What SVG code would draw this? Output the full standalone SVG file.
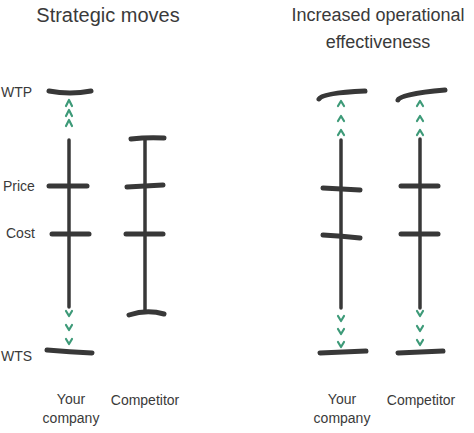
<svg xmlns="http://www.w3.org/2000/svg" width="474" height="433" viewBox="0 0 474 433">
<style>
text{font-family:"Liberation Sans",Arial,sans-serif;fill:#3a3a3a}
.t{font-size:20px;text-anchor:middle}
.t2{font-size:18px;text-anchor:middle}
.l{font-size:14px}
.c{font-size:14px;text-anchor:middle}
.bar{stroke:#383838;stroke-width:3.5;fill:none;stroke-linecap:round}
.cap{stroke:#383838;stroke-width:5;fill:none;stroke-linecap:round}
.ar{stroke:#3d9a78;stroke-width:2.2;fill:none;stroke-linecap:round;stroke-linejoin:round}
</style>
<rect width="474" height="433" fill="#fff"/>
<g id="titles">
<text class="t" x="108" y="22">Strategic moves</text>
<text class="t2" x="378" y="21">Increased operational</text>
<text class="t2" x="378" y="48">effectiveness</text>
</g>
<g id="axis-labels">
<text class="l" x="1" y="97">WTP</text>
<text class="l" x="3" y="191">Price</text>
<text class="l" x="6" y="238">Cost</text>
<text class="l" x="1" y="361">WTS</text>
</g>
<g id="left-your-company">
<path class="bar" d="M69 140 V307"/>
<path class="cap" d="M49 91 Q70 95 91 91"/>
<path class="cap" d="M47 350 Q70 352 92 353"/>
<path class="cap" d="M49 186 H87"/>
<path class="cap" d="M52 234 H89"/>
<text class="c" x="71" y="404">Your</text>
<text class="c" x="71" y="423">company</text>
</g>
<g id="left-competitor">
<path class="bar" d="M145 138 V311"/>
<path class="cap" d="M131 139 Q148 137 164 138"/>
<path class="cap" d="M127 187 Q145 186 163 185"/>
<path class="cap" d="M126 234 H163"/>
<path class="cap" d="M129 315 Q147 309 164 314"/>
<text class="c" x="145" y="405">Competitor</text>
</g>
<g id="right-your-company">
<path class="bar" d="M341 140 V308"/>
<path class="cap" d="M319 99 Q322 93 365 91"/>
<path class="cap" d="M323 188 Q342 189 360 190"/>
<path class="cap" d="M323 235 Q342 236 360 238"/>
<path class="cap" d="M320 353 L366 351"/>
<text class="c" x="342" y="404">Your</text>
<text class="c" x="342" y="423">company</text>
</g>
<g id="right-competitor">
<path class="bar" d="M420 139 V308"/>
<path class="cap" d="M398 100 Q400 94 445 90"/>
<path class="cap" d="M401 186 H438"/>
<path class="cap" d="M401 234 H438"/>
<path class="cap" d="M398 353 L443 351"/>
<text class="c" x="421" y="405">Competitor</text>
</g>
<g id="connectors">
<path class="ar" d="M66 106 L69 100 L72 106 M66 116 L69 110 L72 116 M66 126 L69 120 L72 126"/>
<path class="ar" d="M66 311 L69 316 L72 311 M66 325 L69 330 L72 325 M66 339 L69 344 L72 339"/>
<path class="ar" d="M338 106 L341 101 L344 106 M338 121 L341 116 L344 121 M338 135 L341 130 L344 135"/>
<path class="ar" d="M338 316 L341 321 L344 316 M338 329 L341 334 L344 329 M338 342 L341 347 L344 342"/>
<path class="ar" d="M417 106 L420 101 L423 106 M417 121 L420 116 L423 121 M417 135 L420 130 L423 135"/>
<path class="ar" d="M417 311 L420 316 L423 311 M417 326 L420 331 L423 326 M417 340 L420 345 L423 340"/>
</g>
</svg>
